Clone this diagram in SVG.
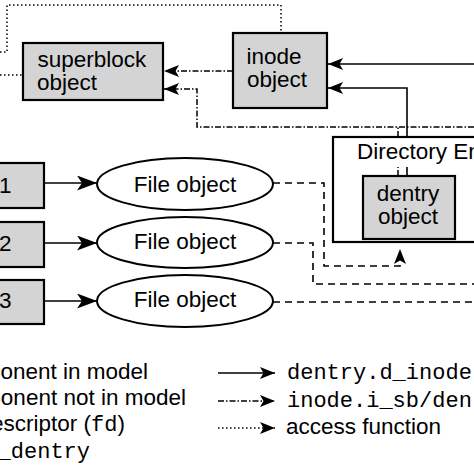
<svg xmlns="http://www.w3.org/2000/svg" width="474" height="474" viewBox="0 0 474 474">
<style>
.t{font-family:"Liberation Sans",Arial,sans-serif;font-size:22.5px;fill:#000}
.m{font-family:"Liberation Mono","Courier New",monospace;font-size:22px;fill:#000}
.box{fill:#d4d4d4;stroke:#000;stroke-width:2.2}
.frame{fill:#fff;stroke:#000;stroke-width:2.2}
.ell{fill:#fff;stroke:#000;stroke-width:2}
.solid{fill:none;stroke:#000;stroke-width:1.6}
.dash{fill:none;stroke:#000;stroke-width:1.6;stroke-dasharray:7 5}
.dd{fill:none;stroke:#000;stroke-width:1.5;stroke-dasharray:6 2 1.5 2}
.dot{fill:none;stroke:#000;stroke-width:1.5;stroke-dasharray:1.5 2.5}
</style>
<defs>
<marker id="a" viewBox="0 0 15 12" refX="15" refY="6" markerWidth="15" markerHeight="12" markerUnits="userSpaceOnUse" orient="auto">
<path d="M0,0 L15,6 L0,12 L3.5,6 z" fill="#000"/>
</marker>
<marker id="aL" viewBox="0 0 20 15" refX="20" refY="7.5" markerWidth="20" markerHeight="15" markerUnits="userSpaceOnUse" orient="auto">
<path d="M0,0 L20,7.5 L0,15 L5,7.5 z" fill="#000"/>
</marker>
</defs>
<rect width="474" height="474" fill="#fff"/>

<g id="superblock">
<rect class="box" x="23" y="43" width="140" height="57"/>
<text class="t" x="37.5" y="67">superblock</text>
<text class="t" x="37" y="90">object</text>
</g>
<g id="inode">
<rect class="box" x="233" y="33" width="94" height="75"/>
<text class="t" x="246.5" y="64">inode</text>
<text class="t" x="247" y="87">object</text>
</g>
<g id="directory-entry">
<rect class="frame" x="333" y="137" width="160" height="105"/>
<text class="t" x="357" y="159">Directory En</text>
</g>
<g id="dentry">
<rect class="box" x="363" y="176" width="92" height="63"/>
<text class="t" x="408" y="201" text-anchor="middle">dentry</text>
<text class="t" x="408" y="224" text-anchor="middle">object</text>
</g>
<g id="fd1">
<rect class="box" x="-10" y="163" width="54" height="45"/>
<text class="t" x="-1" y="193">1</text>
</g>
<g id="fd2">
<rect class="box" x="-10" y="222" width="54" height="45"/>
<text class="t" x="-1" y="251">2</text>
</g>
<g id="fd3">
<rect class="box" x="-10" y="280" width="54" height="44"/>
<text class="t" x="-1" y="308">3</text>
</g>
<g id="file1">
<ellipse class="ell" cx="185" cy="184" rx="88" ry="26"/>
<text class="t" x="185" y="192" text-anchor="middle">File object</text>
</g>
<g id="file2">
<ellipse class="ell" cx="185" cy="242.5" rx="88" ry="25.5"/>
<text class="t" x="185" y="249" text-anchor="middle">File object</text>
</g>
<g id="file3">
<ellipse class="ell" cx="185" cy="301" rx="88" ry="26"/>
<text class="t" x="185" y="307" text-anchor="middle">File object</text>
</g>

<g id="connectors">
<path class="solid" d="M44,183 H97" marker-end="url(#aL)"/>
<path class="solid" d="M44,243 H97" marker-end="url(#aL)"/>
<path class="solid" d="M44,301 H97" marker-end="url(#aL)"/>
<path class="solid" d="M474,64 H328" marker-end="url(#a)"/>
<path class="solid" d="M407,176 V167 M407,137 V88 H328" marker-end="url(#a)"/>
<path class="dd" d="M233,71 H164" marker-end="url(#a)"/>
<path class="dd" d="M398,176 V167 M398,137 V127 M474,127 H197 V89 H164" marker-end="url(#a)"/>
<path class="dot" d="M0,52 H7 V5 H281 V33"/>
<path class="dot" d="M0,75 H23"/>
<path class="dash" d="M273,183 H324 V266 H400 V249" marker-end="url(#a)"/>
<path class="dash" d="M273,243 H313 V284 H474"/>
<path class="dash" d="M273,302 H474"/>
</g>

<g id="legend">
<text class="t" x="148" y="379" text-anchor="end">ponent in model</text>
<text class="t" x="186" y="405" text-anchor="end">ponent not in model</text>
<text class="t" x="125" y="431" text-anchor="end">escriptor (<tspan class="m">fd</tspan>)</text>
<text class="m" x="90" y="458" text-anchor="end">_dentry</text>
<path class="solid" d="M218,373 H275" marker-end="url(#a)"/>
<path class="dd" d="M218,401 H275" marker-end="url(#a)"/>
<path class="dot" d="M218,428 H275" marker-end="url(#a)"/>
<text class="m" x="287" y="379">dentry.d_inode</text>
<text class="m" x="287" y="407">inode.i_sb/den</text>
<text class="t" x="286" y="434">access function</text>
</g>
</svg>
